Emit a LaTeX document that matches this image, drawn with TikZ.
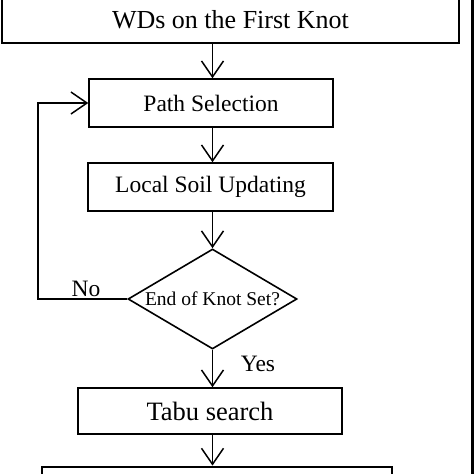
\documentclass[tikz,border=0pt]{standalone}
\usepackage{fontspec}
\setmainfont{Liberation Serif}
\usetikzlibrary{shapes.geometric,arrows.meta}

\begin{document}
\begin{tikzpicture}[x=1pt, y=-1pt,
  procbox/.style={draw, line width=1.5pt, inner sep=0pt, font=\fontsize{23.5}{26}\selectfont},
  bigbox/.style={draw, line width=2.8pt, inner sep=0pt},
  decide/.style={draw, diamond, aspect=2.4, line width=1.6pt, inner sep=0pt,
    minimum width=169pt, minimum height=100pt, font=\fontsize{19.5}{22}\selectfont},
  flow/.style={line width=1.5pt, -{Straight Barb[length=16pt,width=22pt]}},
  lbl/.style={font=\fontsize{23.5}{26}\selectfont}
]
\useasboundingbox (0,0) rectangle (474,474);
\fill (471,0) rectangle (474,474);

\node[bigbox, minimum width=457pt, minimum height=46pt, font=\fontsize{26}{30}\selectfont]
  (first) at (230.5,20) {WDs on the First Knot};
\node[procbox, minimum width=244pt, minimum height=48pt] (path) at (211,103) {Path Selection};
\node[procbox, minimum width=245pt, minimum height=48pt] (soil) at (210.5,187) {Local Soil Updating};
\node[decide] (knot) at (212.5,299) {End of Knot Set?};
\node[procbox, minimum width=264pt, minimum height=46pt, font=\fontsize{26.5}{30}\selectfont]
  (tabu) at (210,411) {Tabu search};
\node[bigbox, minimum width=350pt, minimum height=20pt] (last) at (217,477) {};
\coordinate (back) at (38,299);

\draw[flow] (knot |- first.south) -- (knot |- path.north);
\draw[flow] (knot |- path.south) -- (knot |- soil.north);
\draw[flow] (knot |- soil.south) -- (knot.north);
\draw[flow] (knot.south) -- (knot |- tabu.north);
\draw[flow] (knot |- tabu.south) -- (knot |- last.north);
\draw[flow] (knot.west) -- (back) |- (path.west);

\node[lbl] (no) at (86,289) {No};
\node[lbl] (yes) at (258,364) {Yes};
\end{tikzpicture}
\end{document}
